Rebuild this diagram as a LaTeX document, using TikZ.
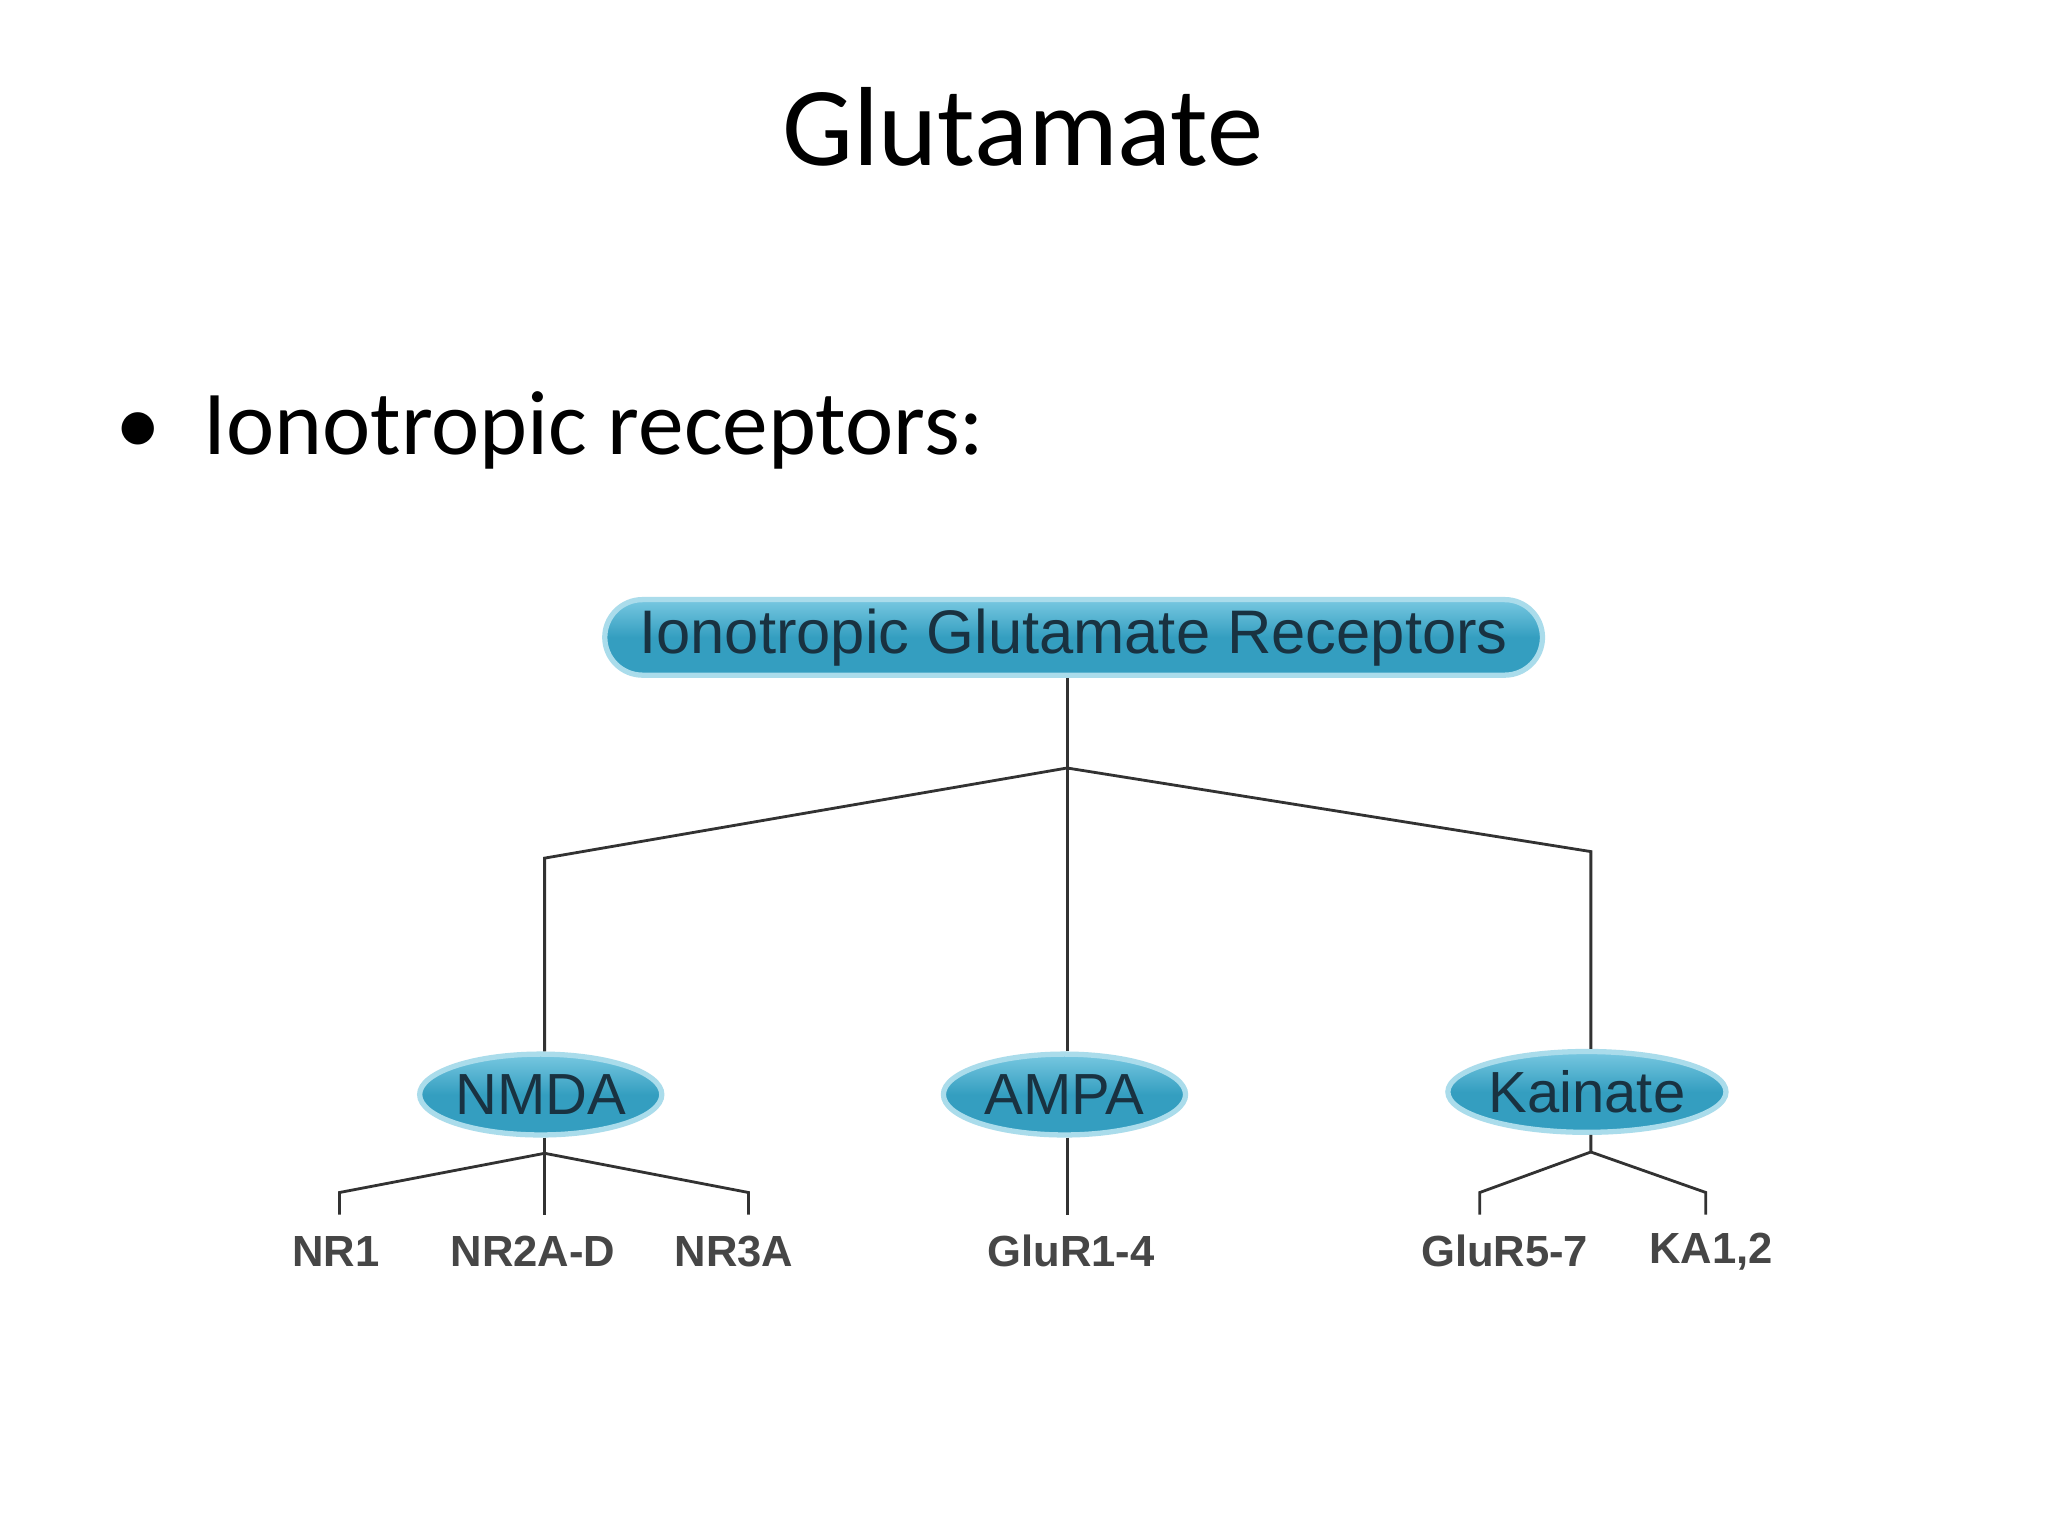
\documentclass[tikz,border=0pt]{standalone}
\usepackage{fontspec}
\setmainfont{Carlito}
\newfontfamily\arialf{Liberation Sans}
\usetikzlibrary{shapes.geometric,shapes.misc}
\definecolor{ovalfill}{RGB}{52,158,192}
\definecolor{ovaltop}{RGB}{120,200,225}
\definecolor{ovaledge}{RGB}{170,220,235}
\definecolor{ovaltext}{RGB}{25,50,65}
\definecolor{linec}{RGB}{50,50,50}
\definecolor{subc}{RGB}{70,70,70}
\begin{document}
\begin{tikzpicture}[x=0.01306cm,y=-0.01306cm,
  oval/.style={ellipse,inner sep=0pt,minimum width=68.9pt,minimum height=23pt,top color=ovaltop,bottom color=ovalfill,middle color=ovalfill,draw=ovaledge,line width=1.5pt,text=ovaltext,font=\arialf\fontsize{16.5}{18}\selectfont},
  pill/.style={rounded rectangle,inner sep=0pt,top color=ovaltop,bottom color=ovalfill,middle color=ovalfill,draw=ovaledge,line width=1.5pt,text=ovaltext,font=\arialf\fontsize{17.5}{18}\selectfont},
  sub/.style={font=\arialf\bfseries\fontsize{12.4}{14}\selectfont,text=subc,inner sep=0pt},
  ln/.style={draw=linec,line width=0.8pt}]
\useasboundingbox (0,0) rectangle (1568,1176);
\fill[white] (0,0) rectangle (1568,1176);
\node (title) at (783,97) {\fontsize{32}{38}\selectfont Glutamate};
\node[anchor=base,inner sep=0pt] (bullet) at (106,348) {\fontsize{26}{30}\selectfont •};
\node[anchor=base west,inner sep=0pt] (btext) at (155,348) {\fontsize{26}{30}\selectfont Ionotropic receptors:};
\node[pill,minimum width=266.8pt,minimum height=21.5pt] (top) at (822,488) {Ionotropic Glutamate Receptors};
\node[oval] (nmda) at (414,838) {NMDA};
\node[oval] (ampa) at (815,838) {AMPA};
\node[oval] (kain) at (1215,836) {Kainate};
\coordinate (br) at (817,588);
\coordinate (bl) at (417,657);
\coordinate (brr) at (1218,652);
\draw[ln] (top.south -| br) -- (br);
\draw[ln] (br) -- (bl) -- (nmda.north -| bl);
\draw[ln] (br) -- (ampa.north -| br);
\draw[ln] (br) -- (brr) -- (kain.north -| brr);
\node[sub] (nr1) at (257,958) {NR1};
\node[sub] (nr2) at (408,958) {NR2A-D};
\node[sub] (nr3) at (562,958) {NR3A};
\node[sub] (glu14) at (820,958) {GluR1-4};
\node[sub] (glu57) at (1152,958) {GluR5-7};
\node[sub] (ka) at (1310,958) {KA1,2};
\coordinate (nb) at (417,883);
\coordinate (n1) at (260,913);
\coordinate (n3) at (573,913);
\draw[ln] (nmda.south -| nb) -- (nb) -- (417,930);
\draw[ln] (nb) -- (n1) -- (260,930);
\draw[ln] (nb) -- (n3) -- (573,930);
\draw[ln] (ampa.south -| br) -- (817,930);
\coordinate (kb) at (1218,882);
\coordinate (k1) at (1133,913);
\coordinate (k2) at (1306,913);
\draw[ln] (kain.south -| kb) -- (kb) -- (k1) -- (1133,930);
\draw[ln] (kb) -- (k2) -- (1306,930);
\end{tikzpicture}
\end{document}
